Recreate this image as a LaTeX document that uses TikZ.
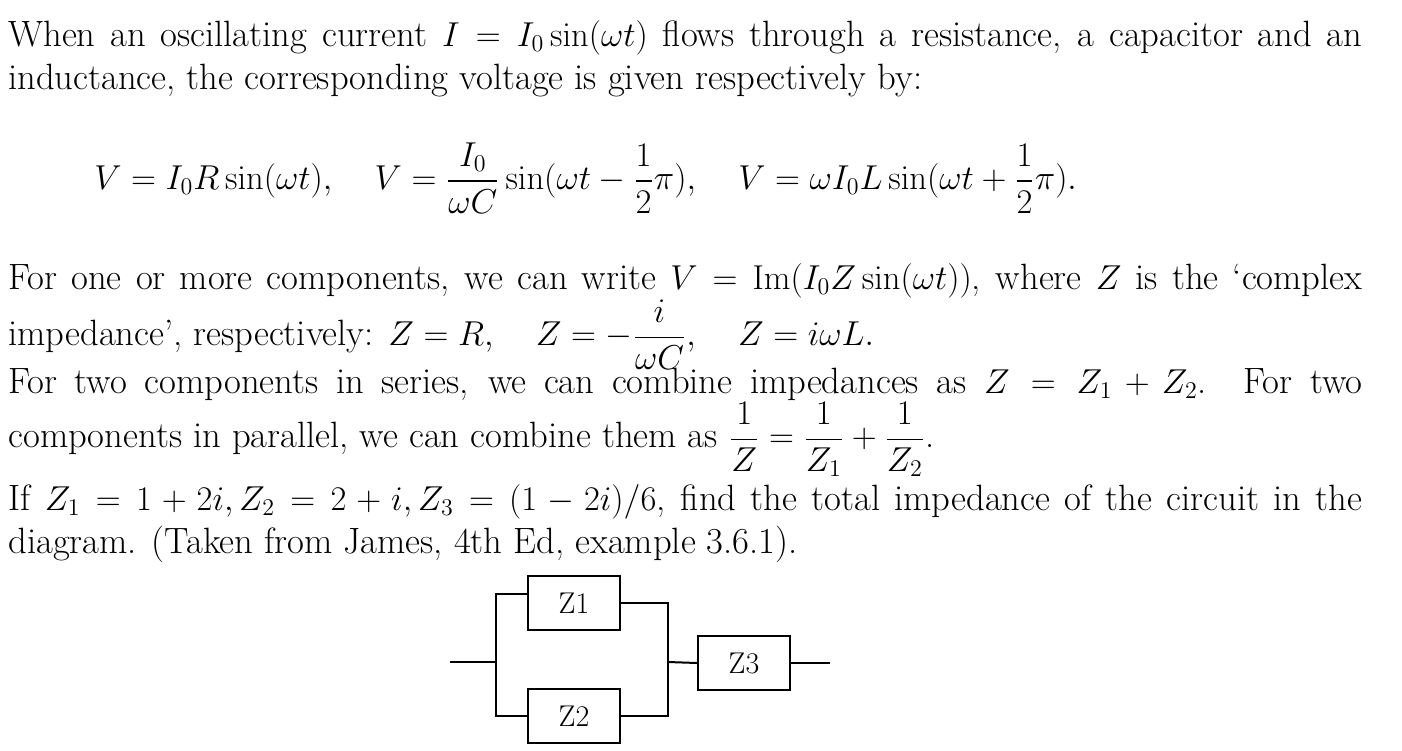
\documentclass[tikz,border=0pt]{standalone}
\usepackage{amsmath}
\begin{document}
\begin{tikzpicture}[x=0.5pt,y=-0.5pt,
  zbox/.style={draw, line width=1pt, minimum width=46pt, minimum height=27pt, inner sep=0pt, font=\fontsize{15}{15}\selectfont},
  wire/.style={line width=1pt}]
\useasboundingbox (0,0) rectangle (1402,750);
\node[anchor=north west, inner sep=0pt, text width=677pt, align=justify,
  font=\fontsize{18.3}{21.5}\selectfont] (txt) at (8,20) {%
\hyphenpenalty=10000\abovedisplayskip=22pt\belowdisplayskip=20pt
When an oscillating current $I=I_0\sin(\omega t)$ flows through a resistance, a capacitor and an inductance, the corresponding voltage is given respectively by:\\[22pt]
\hspace*{43pt}$V=I_0R\sin(\omega t),\quad V=\dfrac{I_0}{\omega C}\sin(\omega t-\dfrac{1}{2}\pi),\quad V=\omega I_0L\sin(\omega t+\dfrac{1}{2}\pi).$\\[24pt]
For one or more components, we can write $V=\mathrm{Im}(I_0Z\sin(\omega t))$, where $Z$ is the `complex impedance', respectively: $Z=R,\quad Z=-\dfrac{i}{\omega C},\quad Z=i\omega L.$\\[-2pt]
For two components in series, we can combine impedances as $Z=Z_1+Z_2$.\quad For two\linebreak components in parallel, we can combine them as $\dfrac{1}{Z}=\dfrac{1}{Z_1}+\dfrac{1}{Z_2}$.\\[3pt]
If $Z_1=1+2i,Z_2=2+i,Z_3=(1-2i)/6$, find the total impedance of the circuit in the diagram. (Taken from James, 4th Ed, example 3.6.1).};
\node[zbox] (z1) at (574,603) {Z1};
\node[zbox] (z2) at (574,716) {Z2};
\node[zbox] (z3) at (744,663) {Z3};
\coordinate (in) at (450,662);
\coordinate (jl) at (496,662);
\coordinate (jr) at (668,662);
\coordinate (out) at (830,663);
\draw[wire] (in) -- (jl);
\draw[wire] (z1.west |- 0,594) -| (jl) |- (z2.west);
\draw[wire] (z1.east) -| (jr) |- (z2.east);
\draw[wire] (jr) -- (z3.west);
\draw[wire] (z3.east) -- (out);
\end{tikzpicture}
\end{document}
